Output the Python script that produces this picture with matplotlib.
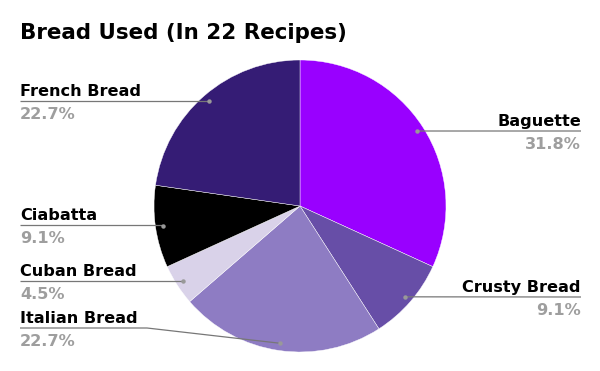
import matplotlib.pyplot as plt
import numpy as np

# data
breads = ['Baguette', 'Crusty Bread', 'Italian Bread', 'Cuban Bread', 'Ciabatta', 'French Bread']
recipes = [7, 2, 5, 1, 2, 5]
colors = ['#9900ff', '#674ea7', '#8e7cc3', '#d9d2e9', '#000000', '#351c75']

# layout (pixels from the top of the picture)
label_y = [131, 297, 328, 281, 225, 101]
W, H = 600, 371

fig = plt.figure(figsize=(6, 3.71), dpi=100)
ax = fig.add_axes([0, 0, 1, 1])

cx, cy, r = 300, H - 206, 146
wedges, _ = ax.pie(recipes, colors=colors, startangle=90, counterclock=False,
                   center=(cx, cy), radius=r,
                   wedgeprops=dict(edgecolor='white', linewidth=0.3))
ax.set_xlim(0, W)
ax.set_ylim(0, H)
ax.set_aspect('equal')
ax.axis('off')

total = sum(recipes)
for w, name, n, ly in zip(wedges, breads, recipes, label_y):
    mid = np.deg2rad((w.theta1 + w.theta2) / 2)
    dx = cx + 0.95 * r * np.cos(mid)
    dy = cy + 0.95 * r * np.sin(mid)
    ly = H - ly
    if dx > cx:
        tx, ha = 581, 'right'
        xs, ys = [dx, 581], [dy, ly]
    else:
        tx, ha = 20, 'left'
        if abs(dy - ly) > 3:
            xs, ys = [20, 147, dx], [ly, ly, dy]
        else:
            xs, ys = [20, dx], [ly, ly]
    ax.plot(xs, ys, color='#777777', lw=0.9, solid_capstyle='butt')
    ax.plot(dx, dy, 'o', color='#999999', ms=3.2, mec='none')
    ax.text(tx, ly + 5, name, ha=ha, va='baseline', fontsize=11.6,
            fontweight='bold', color='black')
    ax.text(tx, ly - 6, f'{100 * n / total:.1f}%', ha=ha, va='top',
            fontsize=11.6, fontweight='bold', color='#9e9e9e')

ax.text(20, H - 39, 'Bread Used (In 22 Recipes)', ha='left', va='baseline',
        fontsize=15.4, fontweight='bold', color='black')

fig.savefig('out.png', dpi=100)
